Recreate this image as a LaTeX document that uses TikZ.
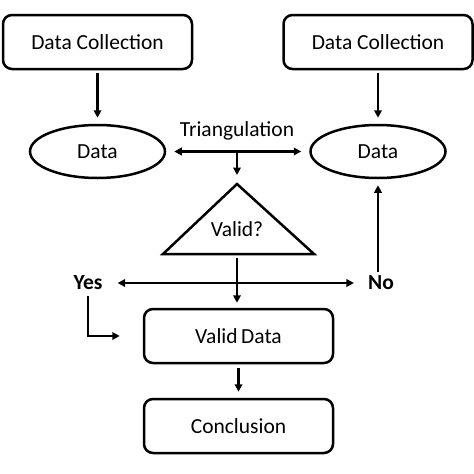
\documentclass[tikz,border=0pt]{standalone}
\usepackage{fontspec}
\setmainfont{Carlito}
\usetikzlibrary{arrows.meta,shapes.geometric}
\begin{document}
\begin{tikzpicture}[x=1pt,y=-1pt,
  every node/.style={font=\fontsize{21.5}{24}\selectfont},
  boxnode/.style={draw, line width=2.5pt, rounded corners=9pt, minimum width=189pt, minimum height=54pt, inner sep=0pt},
  ellnode/.style={draw, ellipse, line width=2.5pt, minimum width=135pt, minimum height=53pt, inner sep=0pt},
  lbl/.style={inner sep=1pt},
  boldlbl/.style={inner sep=1pt, font=\fontsize{21.5}{24}\selectfont\bfseries},
  arr/.style={line width=2.3pt, -{Triangle[length=7.5pt,width=7.5pt]}},
  darr/.style={line width=2.3pt, {Triangle[length=7.5pt,width=7.5pt]}-{Triangle[length=7.5pt,width=7.5pt]}}
]
\path[use as bounding box, fill=white] (0,0) rectangle (474,474);

\node[boxnode] (dc1) at (97.5,42) {Data Collection};
\node[boxnode] (dc2) at (378,42) {Data Collection};
\node[ellnode] (d1) at (97.5,151.5) {Data};
\node[ellnode] (d2) at (378,151.5) {Data};
\node[lbl] (tri) at (237,131) {Triangulation};
\coordinate (tj) at (237,150);

% decision triangle
\coordinate (apex) at (237,184);
\coordinate (bl) at (163,254);
\coordinate (br) at (314,254);
\coordinate (bmid) at (237,254);
\draw[line width=2.5pt, line join=miter] (apex) -- (br) -- (bl) -- cycle;
\node[lbl] (valid) at (237,229) {Valid?};

\node[boldlbl] (yes) at (88,283) {Yes};
\node[boldlbl] (no) at (381,283) {No};

\node[boxnode] (vd) at (238.5,336) {Valid\,Data};
\node[boxnode] (con) at (238.5,426) {Conclusion};

\draw[arr, shorten <=3pt, shorten >=6pt] (dc1.south) -- (d1.north);
\draw[arr, shorten <=3pt, shorten >=6pt] (dc2.south) -- (d2.north);
\draw[darr, shorten <=8pt, shorten >=8pt] (d1.east) -- (d2.west);
\draw[arr, shorten >=9pt] (tj) -- (apex);
\draw[arr, shorten <=4pt, shorten >=5pt] (bmid) -- (vd.north -| bmid);
\draw[darr, shorten <=14pt, shorten >=13pt] (yes.east) -- (no.west);
\draw[arr, shorten <=3pt, shorten >=6pt] (no.north -| d2.south) -- (d2.south);
\draw[arr, shorten <=5pt, shorten >=23pt] (yes.south) |- (vd.west);
\draw[arr, shorten <=4pt, shorten >=6pt] (vd.south) -- (con.north);
\end{tikzpicture}
\end{document}
